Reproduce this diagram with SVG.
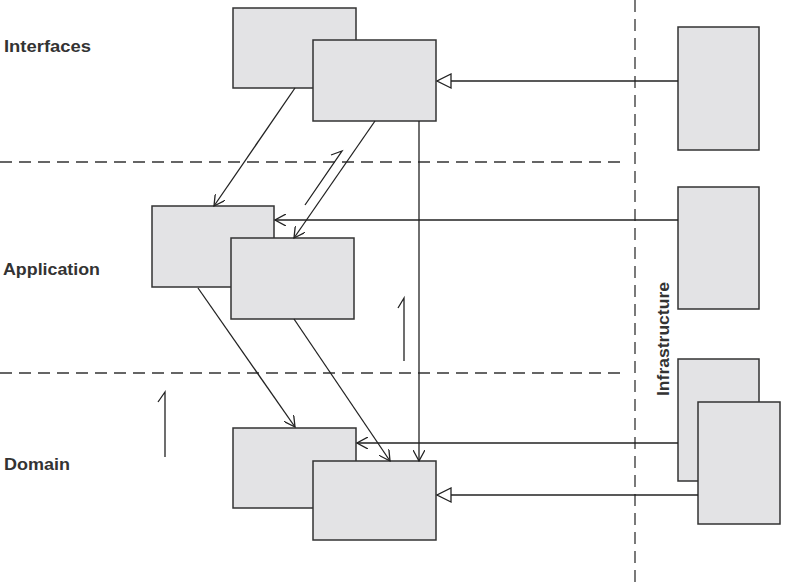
<svg xmlns="http://www.w3.org/2000/svg" width="800" height="583" viewBox="0 0 800 583">
<style>
.b{fill:#e3e3e5;stroke:#333;stroke-width:1.5}
.l{fill:none;stroke:#222;stroke-width:1.3}
.d{fill:none;stroke:#333;stroke-width:1.3;stroke-dasharray:12,7}
.t{font-family:"Liberation Sans",Arial,sans-serif;font-weight:bold;font-size:17px;fill:#333}
</style>
<defs>
<marker id="o" viewBox="0 0 12 12" refX="11" refY="6" markerWidth="12" markerHeight="12" markerUnits="userSpaceOnUse" orient="auto"><path d="M0,0 L11,6 L0,12" fill="none" stroke="#222" stroke-width="1.3"/></marker>
<marker id="h" viewBox="0 0 16 16" refX="15" refY="8" markerWidth="16" markerHeight="16" markerUnits="userSpaceOnUse" orient="auto"><path d="M1,1 L15,8 L1,15 Z" fill="#fff" stroke="#222" stroke-width="1.3"/></marker>
</defs>
<rect width="800" height="583" fill="#fff"/>
<g id="layers">
<line class="d" x1="0" y1="162" x2="620" y2="162"/>
<line class="d" x1="0" y1="373" x2="620" y2="373"/>
<line class="d" x1="635" y1="0" x2="635" y2="583"/>
<text class="t" x="4" y="52" textLength="87" lengthAdjust="spacingAndGlyphs">Interfaces</text>
<text class="t" x="3" y="275" textLength="97" lengthAdjust="spacingAndGlyphs">Application</text>
<text class="t" x="4" y="470" textLength="66" lengthAdjust="spacingAndGlyphs">Domain</text>
<text class="t" transform="translate(669,396) rotate(-90)" textLength="114" lengthAdjust="spacingAndGlyphs">Infrastructure</text>
</g>
<g id="n1"><rect class="b" x="233" y="8" width="123" height="80"/></g>
<g id="n2"><rect class="b" x="313" y="40" width="123" height="81"/></g>
<g id="n3"><rect class="b" x="152" y="206" width="122" height="81"/></g>
<g id="n4"><rect class="b" x="231" y="238" width="123" height="81"/></g>
<g id="n5"><rect class="b" x="233" y="428" width="123" height="80"/></g>
<g id="n6"><rect class="b" x="313" y="461" width="123" height="79"/></g>
<g id="r1"><rect class="b" x="678" y="27" width="81" height="123"/></g>
<g id="r2"><rect class="b" x="678" y="187" width="81" height="122"/></g>
<g id="r3"><rect class="b" x="678" y="359" width="81" height="122"/></g>
<g id="r4"><rect class="b" x="698" y="402" width="82" height="122"/></g>
<g id="connectors">
<line class="l" x1="678" y1="81" x2="437" y2="81" marker-end="url(#h)"/>
<line class="l" x1="678" y1="220" x2="275" y2="220" marker-end="url(#o)"/>
<line class="l" x1="678" y1="443" x2="357" y2="443" marker-end="url(#o)"/>
<line class="l" x1="698" y1="495" x2="437" y2="495" marker-end="url(#h)"/>
<line class="l" x1="419" y1="121" x2="419" y2="461" marker-end="url(#o)"/>
<line class="l" x1="295" y1="88" x2="214" y2="206" marker-end="url(#o)"/>
<line class="l" x1="375" y1="121" x2="294" y2="238" marker-end="url(#o)"/>
<line class="l" x1="198" y1="288" x2="295" y2="427" marker-end="url(#o)"/>
<line class="l" x1="294" y1="319" x2="390" y2="461" marker-end="url(#o)"/>
<path class="l" d="M305,205 L342,151 L331,155"/>
<path class="l" d="M404,361 L404,298 L398,308"/>
<path class="l" d="M165,457 L165,392 L158,402"/>
</g>
</svg>
